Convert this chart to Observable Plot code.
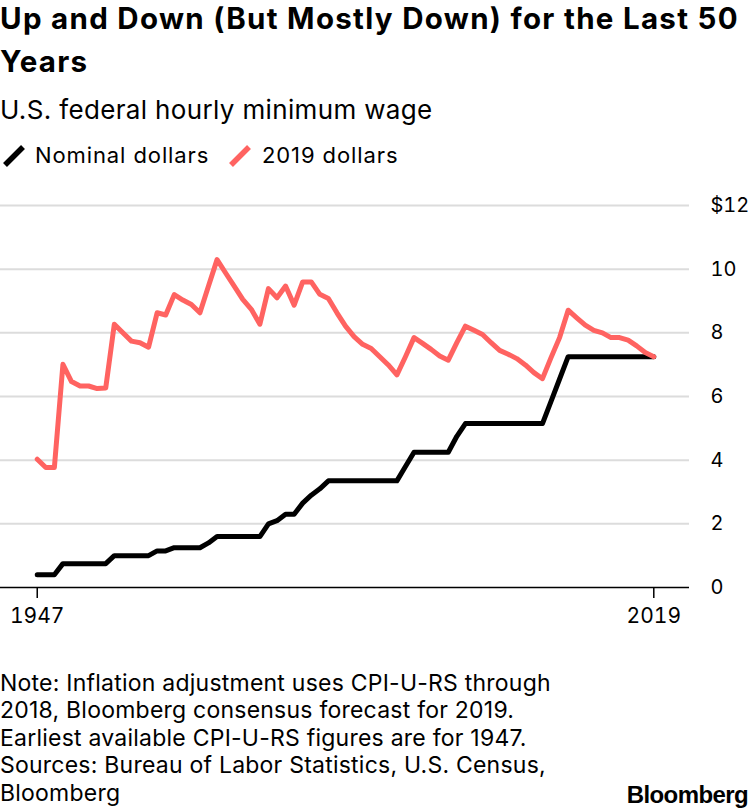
<!DOCTYPE html>
<html>
<head>
<meta charset="utf-8">
<script src="https://cdn.jsdelivr.net/npm/d3@7"></script>
<script src="https://cdn.jsdelivr.net/npm/@observablehq/plot@0.6"></script>
<style>
  html, body { margin: 0; padding: 0; background: #fff; }
  body { width: 750px; height: 808px; position: relative; overflow: hidden;
         font-family: Inter, "Liberation Sans", Helvetica, Arial, sans-serif; color: #000; }
  .abs { position: absolute; left: 0; white-space: nowrap; }
  #title { top: -2.6px; font-size: 29.5px; font-weight: bold; line-height: 42.4px; letter-spacing: 1.3px; }
  #subtitle { top: 94px; font-size: 26px; line-height: normal; letter-spacing: 0.35px; }
  #legend { top: 142px; font-size: 22px; line-height: normal; letter-spacing: 0.9px; }
  #legend span.item { position: absolute; top: 0; }
  #legend svg { position: absolute; top: 2px; }
  #chart { top: 190px; }
  #note { top: 669.6px; font-size: 23px; line-height: 27.5px; letter-spacing: 0.23px; }
  #logo { position: absolute; right: 2px; top: 781px; font-size: 24px; font-weight: bold; letter-spacing: -0.6px; line-height: normal; font-family: "Liberation Sans", Arial, sans-serif; }
</style>
</head>
<body>
<div id="title" class="abs">Up and Down (But Mostly Down) for the Last 50<br>Years</div>
<div id="subtitle" class="abs">U.S. federal hourly minimum wage</div>
<div id="legend" class="abs"></div>
<div id="chart" class="abs"></div>
<div id="note" class="abs">Note: Inflation adjustment uses CPI-U-RS through<br>2018, Bloomberg consensus forecast for 2019.<br>Earliest available CPI-U-RS figures are for 1947.<br>Sources: Bureau of Labor Statistics, U.S. Census,<br>Bloomberg</div>
<div id="logo">Bloomberg</div>
<script>
const years = [1947,1948,1949,1950,1951,1952,1953,1954,1955,1956,1957,1958,1959,1960,
  1961,1962,1963,1964,1965,1966,1967,1968,1969,1970,1971,1972,1973,1974,1975,1976,1977,
  1978,1979,1980,1981,1982,1983,1984,1985,1986,1987,1988,1989,1990,1991,1992,1993,1994,
  1995,1996,1997,1998,1999,2000,2001,2002,2003,2004,2005,2006,2007,2008,2009,2010,2011,
  2012,2013,2014,2015,2016,2017,2018,2019];

const nominalDollars = [0.40,0.40,0.40,0.75,0.75,0.75,0.75,0.75,0.75,1.00,1.00,1.00,1.00,1.00,
  1.15,1.15,1.25,1.25,1.25,1.25,1.40,1.60,1.60,1.60,1.60,1.60,1.60,2.00,2.10,2.30,2.30,
  2.65,2.90,3.10,3.35,3.35,3.35,3.35,3.35,3.35,3.35,3.35,3.35,3.80,4.25,4.25,4.25,4.25,
  4.25,4.75,5.15,5.15,5.15,5.15,5.15,5.15,5.15,5.15,5.15,5.15,5.85,6.55,7.25,7.25,7.25,
  7.25,7.25,7.25,7.25,7.25,7.25,7.25,7.25];

const dollars2019 = [4.03,3.77,3.77,7.01,6.47,6.33,6.33,6.25,6.27,8.27,8.00,7.74,7.69,7.55,
  8.63,8.56,9.20,9.03,8.89,8.63,9.47,10.30,9.88,9.47,9.05,8.74,8.27,9.39,9.10,9.47,8.87,
  9.60,9.60,9.21,9.08,8.63,8.21,7.88,7.64,7.51,7.25,6.99,6.68,7.25,7.85,7.67,7.48,7.27,
  7.14,7.69,8.21,8.08,7.95,7.69,7.45,7.33,7.19,6.99,6.75,6.56,7.22,7.85,8.71,8.47,8.24,
  8.08,8.00,7.85,7.85,7.77,7.59,7.38,7.25];

const seriesNames = ["Nominal dollars", "2019 dollars"];
const seriesColors = ["#000000", "#ff6361"];

const xTicks = [1947, 2019];
const xTickLabels = ["1947", "2019"];
const yTicks = [0, 2, 4, 6, 8, 10, 12];
const yTickLabels = ["0", "2", "4", "6", "8", "10", "$12"];
const gridTicks = [2, 4, 6, 8, 10, 12];

const rows = years.map((year, i) => ({year, nominal: nominalDollars[i], real: dollars2019[i]}));

// Legend
const legend = document.getElementById("legend");
const legendX = [[3, 35], [229, 262]];
seriesNames.forEach((name, i) => {
  const sw = document.createElementNS("http://www.w3.org/2000/svg", "svg");
  sw.setAttribute("width", 24); sw.setAttribute("height", 24);
  sw.style.left = legendX[i][0] + "px";
  sw.innerHTML = `<line x1="2" y1="21" x2="20" y2="3" stroke="${seriesColors[i]}" stroke-width="5.5"/>`;
  legend.appendChild(sw);
  const t = document.createElement("span");
  t.className = "item";
  t.style.left = legendX[i][1] + "px";
  t.textContent = name;
  legend.appendChild(t);
});

const chart = Plot.plot({
  width: 750,
  height: 455,
  marginLeft: 0,
  marginRight: 61,
  marginTop: 15,
  marginBottom: 58,
  x: {domain: [1942.71, 2023.17], label: null},
  y: {domain: [0, 12], label: null},
  style: {fontFamily: "Inter, 'Liberation Sans', Helvetica, Arial, sans-serif", fontSize: "21px", color: "#000", background: "#fff", overflow: "visible"},
  marks: [
    Plot.gridY(gridTicks, {stroke: "#dcdcdc", strokeOpacity: 1, strokeWidth: 2}),
    Plot.ruleY([0], {stroke: "#000", strokeWidth: 1.5}),
    Plot.axisX(xTicks, {tickSize: 11, tickPadding: 10, strokeWidth: 1.5, fontSize: 21, label: null,
      tickFormat: d => xTickLabels[xTicks.indexOf(d)]}),
    Plot.axisY(yTicks, {anchor: "right", tickSize: 0, tickPadding: 21, fontSize: 20, textAnchor: "start", label: null,
      tickFormat: d => yTickLabels[yTicks.indexOf(d)]}),
    Plot.lineY(rows, {x: "year", y: "nominal", stroke: seriesColors[0], strokeWidth: 5, strokeLinejoin: "round"}),
    Plot.lineY(rows, {x: "year", y: "real", stroke: seriesColors[1], strokeWidth: 5, strokeLinejoin: "round"})
  ]
});
document.getElementById("chart").appendChild(chart);
</script>
</body>
</html>
